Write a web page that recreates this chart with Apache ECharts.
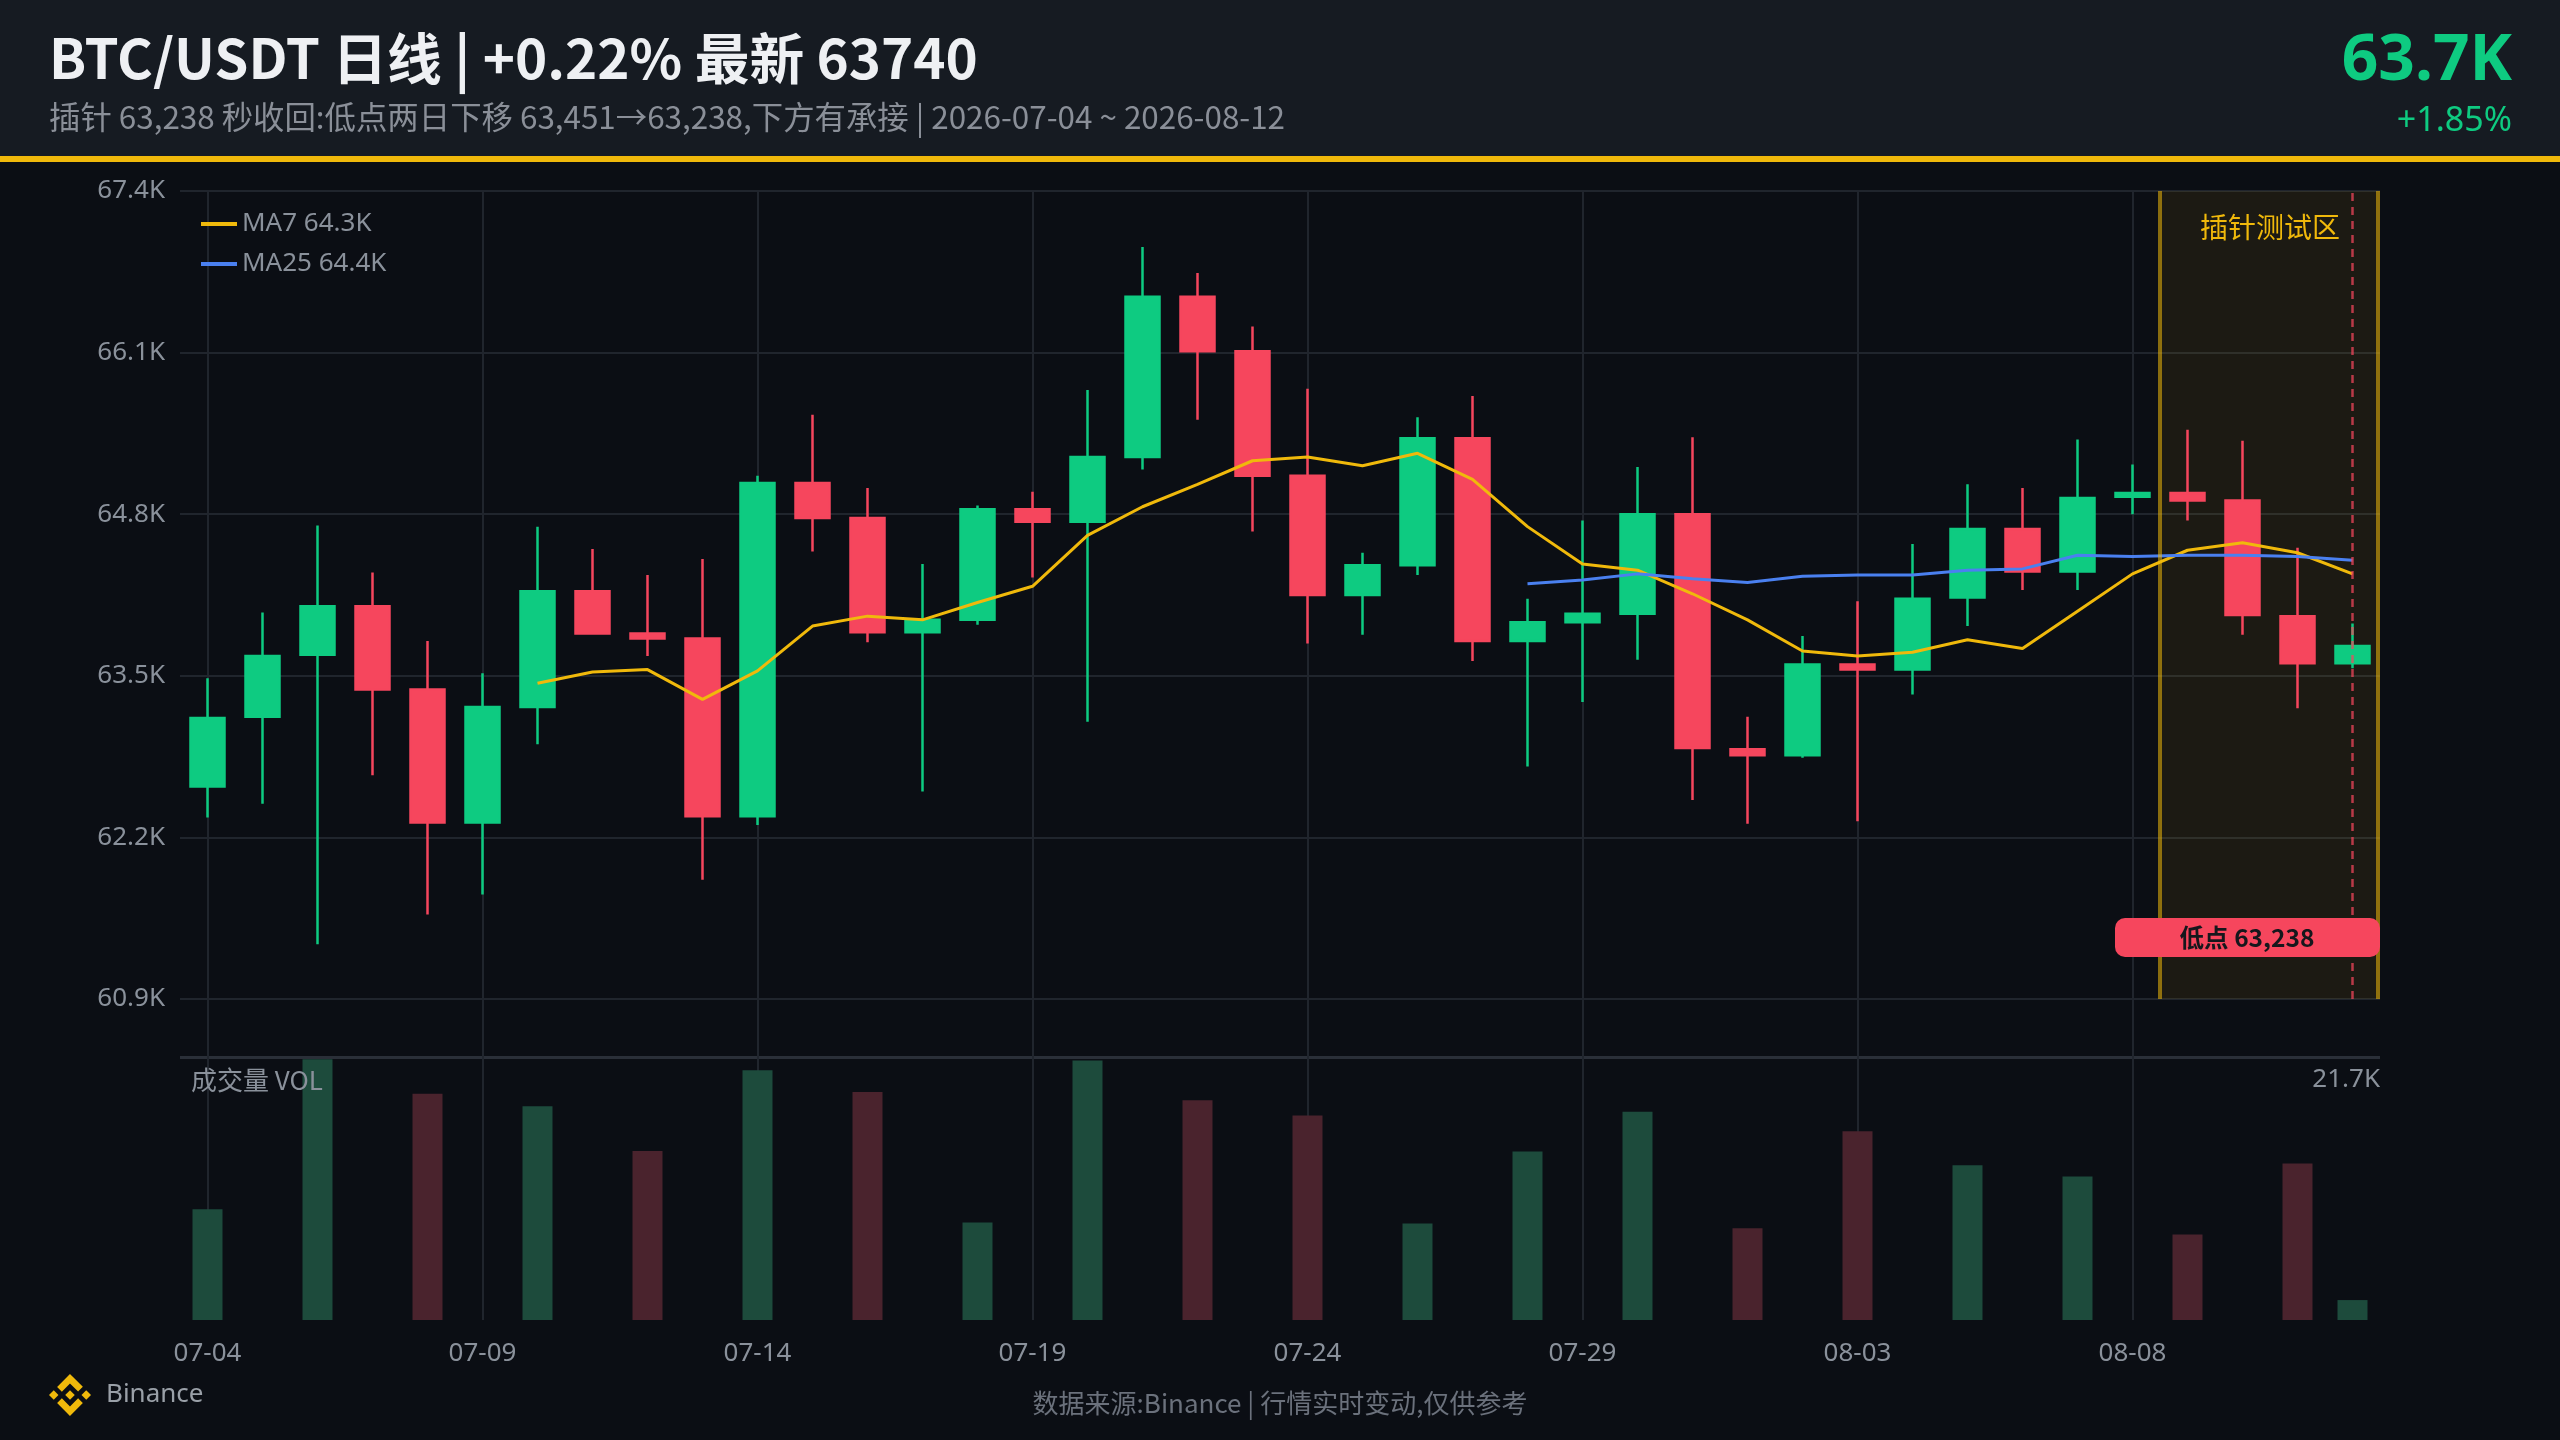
<!DOCTYPE html>
<html>
<head>
<meta charset="utf-8">
<style>
html,body{margin:0;padding:0;background:#0b0e14;}
#chart{width:2560px;height:1440px;}
</style>
<script src="https://cdn.jsdelivr.net/npm/echarts@6/dist/echarts.min.js"></script>
</head>
<body>
<div id="chart"></div>
<script>
// ---------- data ----------
const dates = ['07-04','07-05','07-06','07-07','07-08','07-09','07-10','07-11','07-12','07-13',
  '07-14','07-15','07-16','07-17','07-18','07-19','07-20','07-21','07-22','07-23',
  '07-24','07-25','07-26','07-27','07-28','07-29','07-30','07-31','08-01','08-02',
  '08-03','08-04','08-05','08-06','08-07','08-08','08-09','08-10','08-11','08-12'];
const openV  = [62610,63170,63670,64060,63390,62320,63250,64180,63840,63800,
  62370,65050,64770,63850,63950,64840,64740,65260,66550,66110,
  65110,64150,64390,65410,63780,63930,64000,64800,62910,62860,
  63590,63550,64130,64680,64340,64940,64970,64910,63980,63600];
const closeV = [63160,63660,64060,63390,62320,63250,64180,63840,63800,62370,
  65050,64770,63850,63950,64840,64740,65260,66550,66110,65110,
  64150,64390,65410,63780,63930,64000,64800,62920,62860,63590,
  63550,64120,64680,64340,64930,64970,64910,63990,63600,63740];
const lowV   = [62360,62470,61340,62700,61580,61740,62950,63830,63660,61860,
  62300,64500,63770,62570,63910,64290,63130,65160,65560,64660,
  63760,63830,64310,63620,62770,63290,63630,62500,62310,62840,
  62330,63350,63900,64190,64190,64800,64750,63830,63238,63560];
const highV  = [63480,64010,64710,64330,63780,63520,64700,64520,64310,64440,
  65110,65600,65010,64400,64870,64980,65800,66950,66740,66310,
  65810,64490,65580,65750,64120,64750,65180,65420,63170,63820,
  64100,64560,65040,65010,65400,65200,65480,65390,64530,63920];
const volume = [9230,null,21710,null,18850,null,17800,null,14080,null,
  20790,null,18990,null,8120,null,21600,null,18300,null,
  17020,null,8040,null,14030,null,17350,null,7650,null,
  15720,null,12890,null,11950,null,7120,null,13030,1660];
const ma7 = [null,null,null,null,null,null,63440,63530,63550,63310,
  63540,63900,63980,63950,64090,64220,64630,64860,65040,65230,
  65260,65190,65290,65080,64700,64400,64350,64160,63950,63700,
  63660,63690,63790,63720,64020,64320,64510,64570,64490,64320];
const ma25 = [null,null,null,null,null,null,null,null,null,null,
  null,null,null,null,null,null,null,null,null,null,
  null,null,null,null,64240,64270,64320,64280,64250,64300,
  64310,64310,64350,64360,64470,64460,64470,64470,64460,64430];
const priceTicks = [60900,62200,63500,64800,66100,67400];
const zoneStart = '08-09', zoneEnd = '08-12', pinDate = '08-12';
const titleText = 'BTC/USDT 日线 | +0.22% 最新 63740';
const subText = '插针 63,238 秒收回:低点两日下移 63,451→63,238,下方有承接 | 2026-07-04 ~ 2026-08-12';
const bigPrice = '63.7K', bigPct = '+1.85%';

// ---------- style / layout ----------
const GREEN = '#0ecb81', RED = '#f6465d', YEL = '#f0b90b', BLUE = '#4a80f0';
const GRID_C = '#20252d', LABEL_C = '#8a919b';
const FONT = '"Noto Sans","Noto Sans CJK SC",sans-serif';
const CJK = '"Noto Sans CJK SC","Noto Sans",sans-serif';
const VOL_TOP_PX = 1057, VOL_BOT_PX = 1320, VOL_GRID_TOP = 999, VOL_LINE_VAL = 21900;
const volAxisMax = VOL_LINE_VAL * (VOL_BOT_PX - VOL_GRID_TOP) / (VOL_BOT_PX - VOL_TOP_PX);

// Binance logo outline (24x24 design units)
const LOGO = [
  [[16.624,13.92],[19.34,16.636],[11.989,23.989],[4.636,16.637],[7.353,13.92],[11.989,18.58]],
  [[21.261,9.284],[24,12],[21.285,14.716],[18.568,12]],
  [[11.989,9.285],[14.705,11.976],[11.989,14.693],[9.272,12]],
  [[2.716,9.284],[5.409,12],[2.717,14.692],[0,12]],
  [[11.989,0.012],[19.342,7.341],[16.624,10.056],[11.989,5.42],[7.353,10.08],[4.636,7.364]]
];
const logoEls = LOGO.map(pts => ({ type: 'polygon', silent: true,
  shape: { points: pts.map(p => [49 + p[0] * 1.75, 1374 + p[1] * 1.75]) }, style: { fill: YEL } }));

const candles = dates.map((d, i) => [openV[i], closeV[i], lowV[i], highV[i]]);
const volData = volume.map((v, i) => v == null ? null : {
  value: v,
  itemStyle: { color: closeV[i] >= openV[i] ? '#1d4b3c' : '#4a232d' }
});
const maxVol = Math.max(...volume.filter(v => v != null));
const zoneLow = Math.min(...lowV.slice(dates.indexOf(zoneStart)));
const lastOf = arr => arr[arr.length - 1];
const kfmt = v => (v / 1000).toFixed(1) + 'K';

const chart = echarts.init(document.getElementById('chart'));
chart.setOption({
  backgroundColor: '#0b0e14',
  animation: false,
  textStyle: { fontFamily: FONT },
  legend: {
    data: ['MA7', 'MA25'], orient: 'vertical', left: 196, top: 206, itemGap: 14,
    icon: 'rect', itemWidth: 36, itemHeight: 4,
    textStyle: { color: LABEL_C, fontSize: 26, fontFamily: FONT },
    formatter: n => n + ' ' + kfmt(lastOf(n === 'MA7' ? ma7 : ma25))
  },
  grid: [
    { left: 180, right: 180, top: 191, bottom: 1440 - 999 },
    { left: 180, right: 180, top: VOL_GRID_TOP, bottom: 1440 - VOL_BOT_PX }
  ],
  xAxis: [
    { type: 'category', data: dates, gridIndex: 0, boundaryGap: true,
      axisLine: { show: false }, axisTick: { show: false, interval: 4, alignWithLabel: true },
      axisLabel: { show: false, interval: 4 },
      splitLine: { show: true, interval: 4, alignWithLabel: true, lineStyle: { color: GRID_C, width: 2 } } },
    { type: 'category', data: dates, gridIndex: 1, boundaryGap: true,
      axisLine: { show: false }, axisTick: { show: false, interval: 4, alignWithLabel: true },
      axisLabel: { show: true, interval: 4, color: LABEL_C, fontSize: 26, margin: 21, fontFamily: FONT },
      splitLine: { show: true, interval: 4, alignWithLabel: true, lineStyle: { color: GRID_C, width: 2 } } }
  ],
  yAxis: [
    { type: 'value', gridIndex: 0, min: priceTicks[0], max: priceTicks[priceTicks.length - 1],
      axisLine: { show: false },
      axisTick: { show: false, customValues: priceTicks },
      axisLabel: { customValues: priceTicks, color: LABEL_C, fontSize: 26, margin: 15, fontFamily: FONT,
        formatter: v => kfmt(v) },
      splitLine: { show: true, lineStyle: { color: GRID_C, width: 2 } } },
    { type: 'value', gridIndex: 1, min: 0, max: volAxisMax, show: false, splitLine: { show: false } }
  ],
  series: [
    { name: 'K', type: 'candlestick', xAxisIndex: 0, yAxisIndex: 0, data: candles, barWidth: 34,
      itemStyle: { color: GREEN, color0: RED, borderColor: GREEN, borderColor0: RED, borderWidth: 2.5 } },
    { name: 'MA7', type: 'line', xAxisIndex: 0, yAxisIndex: 0, data: ma7, showSymbol: false, symbol: 'none',
      lineStyle: { color: YEL, width: 3 }, itemStyle: { color: YEL }, z: 3 },
    { name: 'MA25', type: 'line', xAxisIndex: 0, yAxisIndex: 0, data: ma25, showSymbol: false, symbol: 'none',
      lineStyle: { color: BLUE, width: 3 }, itemStyle: { color: BLUE }, z: 3 },
    { name: 'VOL', type: 'bar', xAxisIndex: 1, yAxisIndex: 1, data: volData, barWidth: 30 }
  ],
  graphic: [
    { type: 'rect', silent: true, z: -1, shape: { x: 0, y: 0, width: 2560, height: 156 }, style: { fill: '#161b22' } },
    { type: 'rect', silent: true, shape: { x: 0, y: 156, width: 2560, height: 6 }, style: { fill: YEL } },
    { type: 'text', x: 49, y: 58, style: { text: titleText, fill: '#eef0f3', font: 'bold 54.7px ' + CJK, textVerticalAlign: 'middle' } },
    { type: 'text', x: 49, y: 117, style: { text: subText, fill: '#8a8f98', font: '31.4px ' + CJK, textVerticalAlign: 'middle' } },
    { type: 'text', x: 2512, y: 62, style: { text: bigPrice, fill: GREEN, font: 'bold 64px ' + FONT, textAlign: 'right', textVerticalAlign: 'middle' } },
    { type: 'text', x: 2512, y: 121, style: { text: bigPct, fill: GREEN, font: '34px ' + FONT, textAlign: 'right', textVerticalAlign: 'middle' } },
    { type: 'rect', silent: true, shape: { x: 180, y: VOL_TOP_PX - 1, width: 2200, height: 3 }, style: { fill: '#2a2f38' } },
    { type: 'text', z: 100, x: 191, y: 1080, style: { text: '成交量 VOL', fill: LABEL_C, font: '26px ' + CJK, textVerticalAlign: 'middle' } },
    { type: 'text', z: 100, x: 2380, y: 1080, style: { text: kfmt(maxVol), fill: LABEL_C, font: '26px ' + FONT, textAlign: 'right', textVerticalAlign: 'middle' } },
    { type: 'group', z: 100, x: 2115, y: 918, children: [
      { type: 'rect', z: 100, shape: { x: 0, y: 0, width: 265, height: 39, r: 10 }, style: { fill: RED } },
      { type: 'text', z: 101, x: 132, y: 20, style: { text: '低点 ' + zoneLow.toLocaleString('en-US'), fill: '#15171c',
        font: 'bold 24.5px ' + CJK, textAlign: 'center', textVerticalAlign: 'middle' } }
    ] },
    ...logoEls,
    { type: 'text', x: 106, y: 1395, style: { text: 'Binance', fill: '#9aa0a8', font: '26px ' + FONT, textVerticalAlign: 'middle' } },
    { type: 'text', x: 1280, y: 1403, style: { text: '数据来源:Binance | 行情实时变动,仅供参考', fill: '#6b717c', font: '26px ' + CJK, textAlign: 'center', textVerticalAlign: 'middle' } }
  ]
});

// test zone covering whole category bands (edge to edge), derived from the axis scale
const px = d => chart.convertToPixel({ xAxisIndex: 0 }, d);
const band = px(dates[1]) - px(dates[0]);
const x0 = px(zoneStart) - band / 2, x1 = px(zoneEnd) + band / 2;
const yTop = chart.convertToPixel({ yAxisIndex: 0 }, priceTicks[priceTicks.length - 1]);
const yBot = chart.convertToPixel({ yAxisIndex: 0 }, priceTicks[0]);
const edgeStyle = { color: 'rgba(240,185,11,0.55)', type: 'solid', width: 4 };
chart.setOption({
  series: [{ name: 'K',
    markArea: {
      silent: true,
      itemStyle: { color: 'rgba(240,185,11,0.075)', borderWidth: 0 },
      label: { show: true, position: 'insideTopRight', distance: 0, offset: [-40, 22],
        color: YEL, fontSize: 28, fontFamily: CJK },
      data: [[{ name: '插针测试区', x: x0, y: yTop }, { x: x1, y: yBot }]]
    },
    markLine: {
      silent: true, symbol: ['none', 'none'], label: { show: false },
      lineStyle: { color: 'rgba(246,70,93,0.72)', type: [8, 6], width: 2.5 },
      data: [
        { xAxis: pinDate },
        [{ x: x0, y: yTop, lineStyle: edgeStyle }, { x: x0, y: yBot }],
        [{ x: x1 - 2, y: yTop, lineStyle: edgeStyle }, { x: x1 - 2, y: yBot }]
      ]
    }
  }]
});
</script>
</body>
</html>
